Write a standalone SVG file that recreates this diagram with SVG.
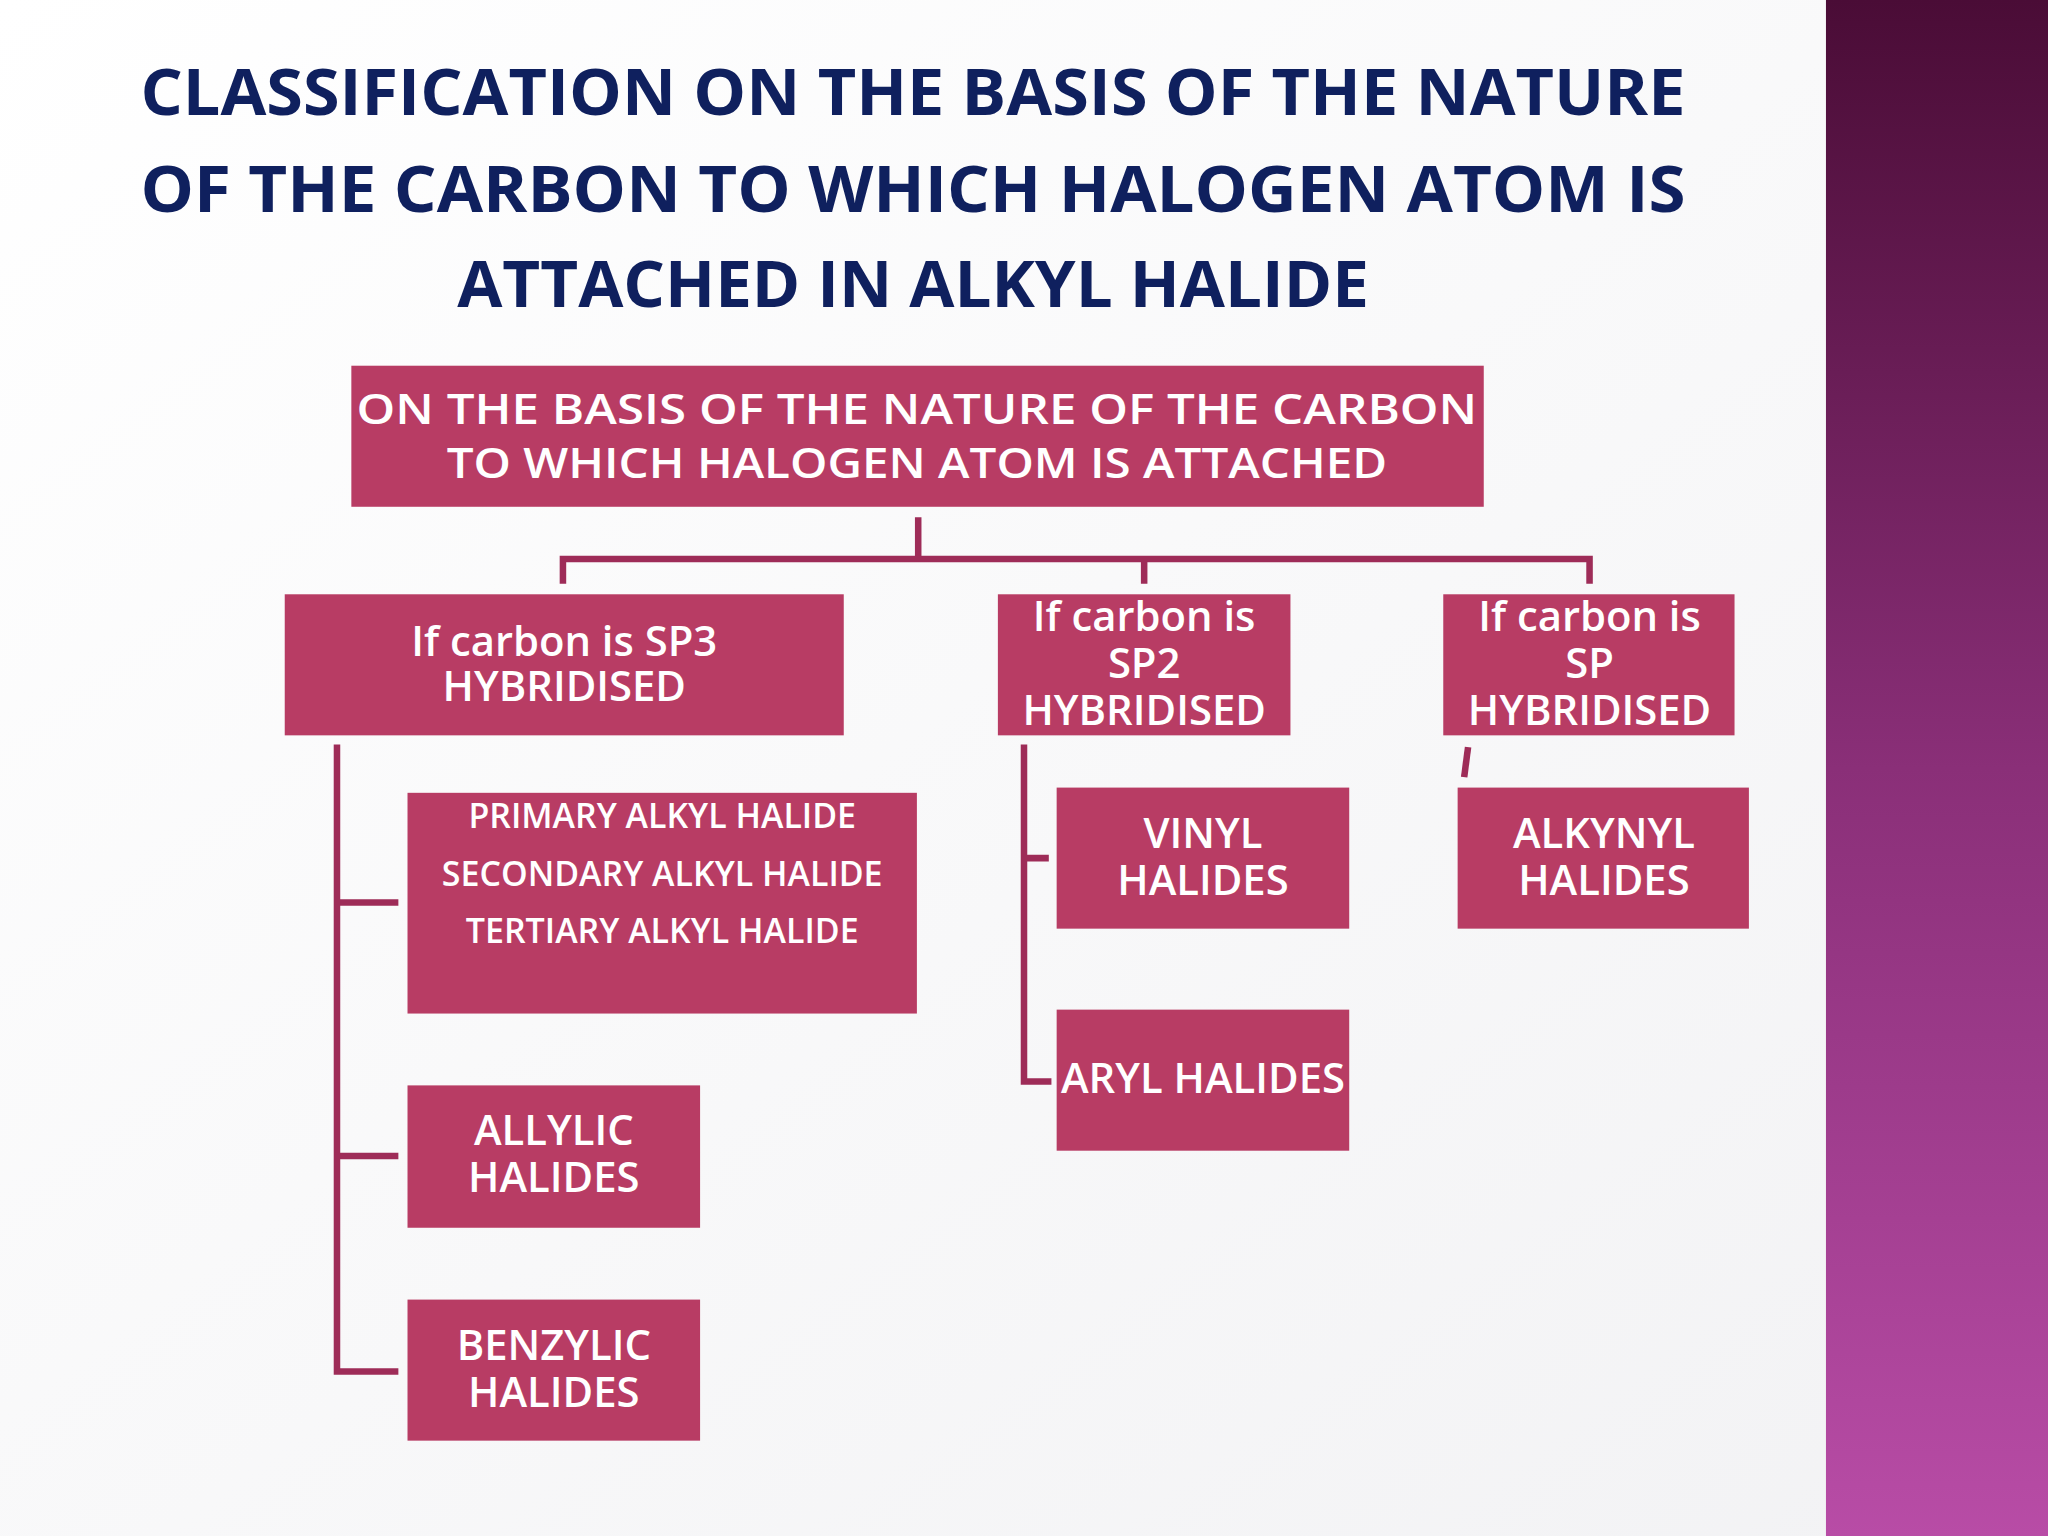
<svg xmlns="http://www.w3.org/2000/svg" width="2048" height="1536" viewBox="0 0 2048 1536">
<defs>
<linearGradient id="pg" x1="0" y1="0" x2="0" y2="1">
<stop offset="0" stop-color="#4a0c36"/><stop offset="0.5" stop-color="#8a2f78"/><stop offset="1" stop-color="#b84ca6"/>
</linearGradient>
<linearGradient id="bg" x1="0" y1="0" x2="1" y2="1">
<stop offset="0" stop-color="#ffffff"/><stop offset="1" stop-color="#f2f2f4"/>
</linearGradient>
<style>
.t{font-family:"Open Sans","Liberation Sans",sans-serif;font-weight:bold;fill:#0f205e;font-size:50px;text-anchor:middle}
.b{fill:#b83c64}
.w{font-family:"Open Sans","Liberation Sans",sans-serif;font-weight:600;fill:#fff;text-anchor:middle;font-size:32px}
.s{font-size:26px}
.c{stroke:#9e2c58;stroke-width:5;fill:none}
</style>
</defs>
<g transform="scale(1.306122)">
<rect width="1568" height="1176" fill="url(#bg)"/>
<rect x="1398" y="0" width="170" height="1176" fill="url(#pg)"/>
<g id="title">
<text class="t" x="699" y="88" textLength="1183" lengthAdjust="spacingAndGlyphs">CLASSIFICATION ON THE BASIS OF THE NATURE</text>
<text class="t" x="699" y="162" textLength="1183" lengthAdjust="spacingAndGlyphs">OF THE CARBON TO WHICH HALOGEN ATOM IS</text>
<text class="t" x="699" y="235" textLength="698" lengthAdjust="spacingAndGlyphs">ATTACHED IN ALKYL HALIDE</text>
</g>
<g id="connectors">
<path class="c" d="M703 396V428M431 447V428H1217V447M876 428V447"/>
<path class="c" d="M258 570V1050H305M258 691H305M258 885H305"/>
<path class="c" d="M784 570V828H805M784 657H803"/>
<path class="c" d="M1124 572L1121 595"/>
</g>
<g id="root"><rect class="b" x="269" y="280" width="867" height="108"/>
<text class="w" x="702" y="325" textLength="858" lengthAdjust="spacingAndGlyphs">ON THE BASIS OF THE NATURE OF THE CARBON</text>
<text class="w" x="702" y="366" textLength="720" lengthAdjust="spacingAndGlyphs">TO WHICH HALOGEN ATOM IS ATTACHED</text></g>
<g id="sp3"><rect class="b" x="218" y="455" width="428" height="108"/>
<text class="w" x="432" y="502">If carbon is SP3</text><text class="w" x="432" y="537">HYBRIDISED</text></g>
<g id="sp2"><rect class="b" x="764" y="455" width="224" height="108"/>
<text class="w" x="876" y="483">If carbon is</text><text class="w" x="876" y="519">SP2</text><text class="w" x="876" y="555">HYBRIDISED</text></g>
<g id="sp"><rect class="b" x="1105" y="455" width="223" height="108"/>
<text class="w" x="1217" y="483">If carbon is</text><text class="w" x="1217" y="519">SP</text><text class="w" x="1217" y="555">HYBRIDISED</text></g>
<g id="alkyl"><rect class="b" x="312" y="607" width="390" height="169"/>
<text class="w s" x="507" y="634">PRIMARY ALKYL HALIDE</text><text class="w s" x="507" y="678">SECONDARY ALKYL HALIDE</text><text class="w s" x="507" y="722">TERTIARY ALKYL HALIDE</text></g>
<g id="allylic"><rect class="b" x="312" y="831" width="224" height="109"/>
<text class="w" x="424" y="877">ALLYLIC</text><text class="w" x="424" y="913">HALIDES</text></g>
<g id="benzylic"><rect class="b" x="312" y="995" width="224" height="108"/>
<text class="w" x="424" y="1041">BENZYLIC</text><text class="w" x="424" y="1077">HALIDES</text></g>
<g id="vinyl"><rect class="b" x="809" y="603" width="224" height="108"/>
<text class="w" x="921" y="649">VINYL</text><text class="w" x="921" y="685">HALIDES</text></g>
<g id="aryl"><rect class="b" x="809" y="773" width="224" height="108"/>
<text class="w" x="921" y="837">ARYL HALIDES</text></g>
<g id="alkynyl"><rect class="b" x="1116" y="603" width="223" height="108"/>
<text class="w" x="1228" y="649">ALKYNYL</text><text class="w" x="1228" y="685">HALIDES</text></g>
</g>
</svg>
